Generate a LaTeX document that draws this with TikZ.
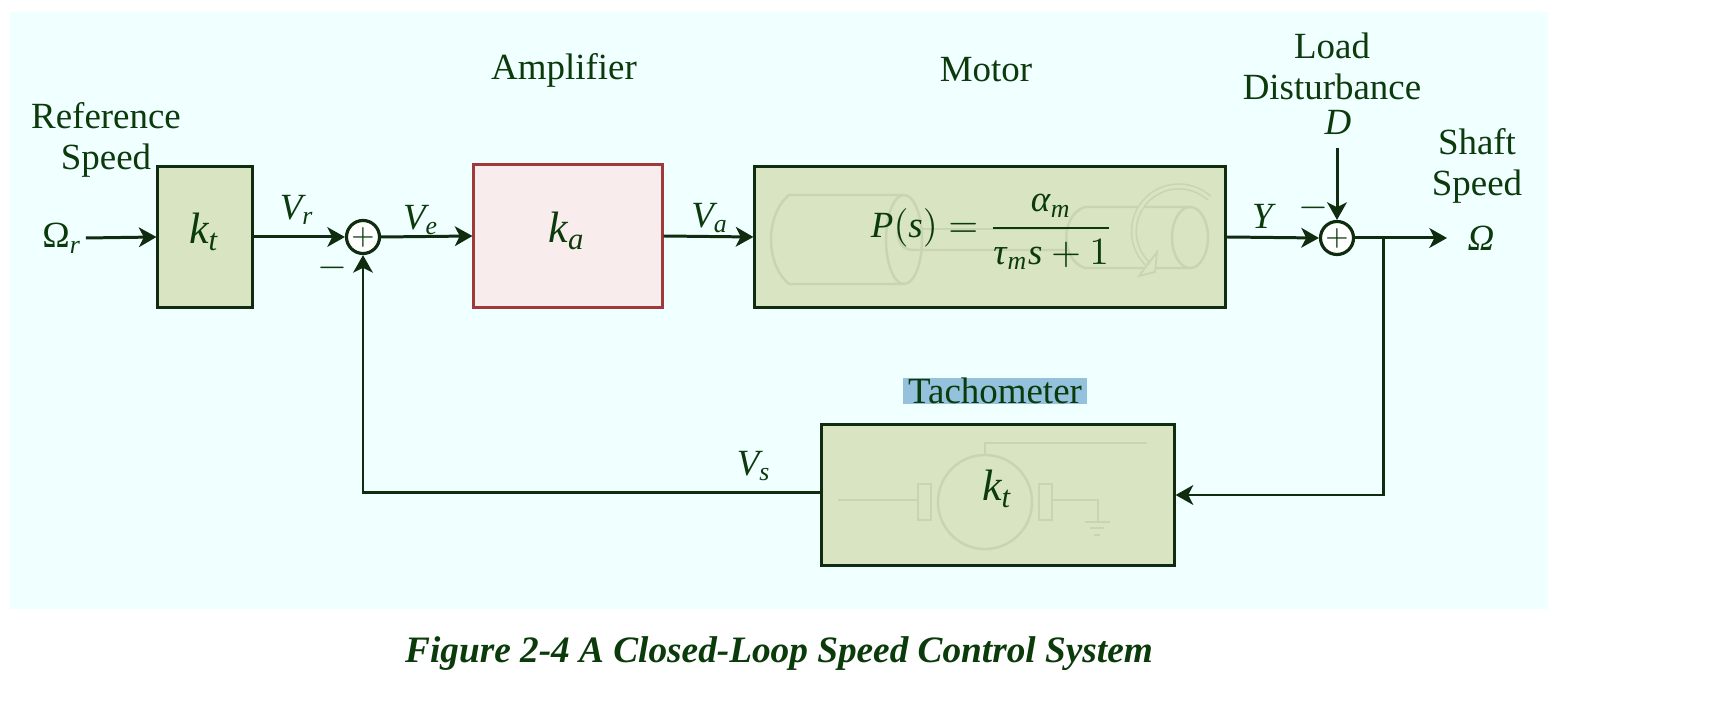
\documentclass[tikz,border=0pt]{standalone}
\usepackage{fontspec}
\setmainfont{Liberation Serif}
\usetikzlibrary{arrows.meta}
\definecolor{panelcol}{HTML}{F0FFFF}
\definecolor{blockcol}{HTML}{D9E5C2}
\definecolor{ampcol}{HTML}{F8ECEC}
\definecolor{ampline}{HTML}{9E3A3A}
\definecolor{linecol}{HTML}{0F2C0F}
\definecolor{textcol}{HTML}{0B3A0B}
\definecolor{ghostcol}{HTML}{C8D4B2}
\definecolor{markcol}{HTML}{94C1DC}
\newcommand{\sym}[2]{$\mathit{#1}_{\mathit{#2}}$}
\begin{document}
\begin{tikzpicture}[
        x=0.01cm, y=-0.01cm,
        font=\fontsize{10.5}{11.7}\selectfont,
        text=textcol,
        block/.style={rectangle, draw=linecol, fill=blockcol, line width=0.85pt, inner sep=0pt},
        sum/.style={circle, draw=linecol, fill=white, line width=0.9pt, inner sep=0pt, minimum size=0.33cm, font=\fontsize{8}{8}\selectfont},
        tag/.style={inner sep=1pt, align=center},
        gain/.style={tag, font=\fontsize{12.5}{13}\selectfont},
        wire/.style={draw=linecol, line width=0.85pt},
        signal/.style={wire, -{Stealth[length=5pt, width=5.6pt, inset=1.4pt]}},
        ghost/.style={draw=ghostcol, line width=0.7pt}
    ]
        \useasboundingbox (0,0) rectangle (1718,707);
        \fill[panelcol] (10,12) rectangle (1548,609);

        % blocks
        \node[block, minimum width=0.94cm, minimum height=1.40cm] (kr) at (205,237) {};
        \node[block, fill=ampcol, draw=ampline, minimum width=1.88cm, minimum height=1.42cm] (amp) at (568,236) {};
        \node[block, minimum width=4.70cm, minimum height=1.41cm] (motor) at (990,237) {};
        \node[block, minimum width=3.52cm, minimum height=1.41cm] (tach) at (998,495) {};
        \node[sum] (sumA) at (363,237) {$+$};
        \node[sum] (sumB) at (1337,238) {$+$};

        % faint motor sketch
        \draw[ghost] (904,195) -- (789,195) .. controls (765,215) and (765,264) .. (789,284) -- (904,284);
        \draw[ghost] (904,239.5) ellipse [x radius=0.18cm, y radius=0.445cm];
        \draw[ghost] (920,229) -- (1068,229);
        \draw[ghost] (1068,250) -- (915,250) .. controls (903,250) and (898,245) .. (898,232);
        \draw[ghost] (1190,207) -- (1085,207) .. controls (1060,215) and (1060,260) .. (1085,268) -- (1190,268);
        \draw[ghost] (1190,237.5) ellipse [x radius=0.18cm, y radius=0.305cm];
        \draw[ghost, line width=0.45pt, double=blockcol, double distance=0.9pt] (1209,198) arc [start angle=48, end angle=225, radius=0.45cm];
        \draw[ghost, fill=blockcol, line width=0.5pt] (1157,252) -- (1139,276) -- (1155,272) -- cycle;

        % faint tachometer sketch
        \draw[ghost] (985,502) circle [radius=0.47cm];
        \draw[ghost] (985,455) -- (985,443) -- (1147,443);
        \draw[ghost] (918,484) rectangle (931,520);
        \draw[ghost] (1039,484) rectangle (1052,520);
        \draw[ghost] (838,500) -- (918,500);
        \draw[ghost] (1052,500) -- (1098,500) -- (1098,522);
        \draw[ghost] (1085,522) -- (1110,522);
        \draw[ghost] (1090,528) -- (1104,528);
        \draw[ghost] (1094,535) -- (1100,535);

        % labels
        \node[tag] (refspeed) at (106,140) {Reference\\Speed};
        \node[tag] (amplabel) at (564,70) {Amplifier};
        \node[tag] (motorlabel) at (986,70) {Motor};
        \node[tag] (loadlabel) at (1332,66) {Load\\Disturbance};
        \node[tag] (shaftlabel) at (1477,166) {Shaft\\Speed};
        \node[tag, fill=markcol, inner sep=0pt, minimum width=1.84cm, minimum height=0.25cm] (tachlabel) at (995,391) {Tachometer};
        \node[tag] (wr) at (62,238) {$\mbox{Ω}_{\mathit{r}}$};
        \node[tag] (wout) at (1481,238) {\textit{Ω}};
        \node[tag] (dist) at (1338,122) {\textit{D}};
        \node[tag] (vr) at (297,210) {\sym{V}{r}};
        \node[tag] (ve) at (421,220) {\sym{V}{e}};
        \node[tag] (va) at (710,218) {\sym{V}{a}};
        \node[tag] (vy) at (1264,216) {\textit{Y}};
        \node[tag] (vs) at (754,466) {\sym{V}{s}};
        \node[tag] (minusA) at (332,268) {$-$};
        \node[tag] (minusB) at (1313,208) {$-$};
        \node[gain] (ktext) at (204,232) {\sym{k}{t}};
        \node[gain] (katext) at (567,231) {\sym{k}{a}};
        \node[tag] (ptext) at (992,232) {$\displaystyle \mathit{P}(\mathit{s})=\frac{\mbox{\textit{α}}_{\mathit{m}}}{\mbox{\textit{τ}}_{\mathit{m}}\mathit{s}+1}$};
        \node[gain] (kttext) at (997,489) {\sym{k}{t}};
        \node[tag, font=\fontsize{10.6}{13}\selectfont\bfseries\itshape] (caption) at (779,654) {Figure 2-4 A Closed-Loop Speed Control System};

        % free ends
        \coordinate (dtop) at (1337,148);
        \coordinate (shaftend) at (1447,238);
        \coordinate (branch) at (1383,238);

        % connectors
        \draw[signal] (wr.east) -- (kr.west);
        \draw[signal] (kr.east) -- (sumA.west);
        \draw[signal] (sumA.east) -- (amp.west);
        \draw[signal] (amp.east) -- (motor.west);
        \draw[signal] (motor.east) -- (sumB.west);
        \draw[signal] (dtop) -- (sumB.north);
        \draw[signal] (sumB.east) -- (shaftend);
        \draw[signal] (branch) |- (tach.east);
        \draw[signal] ([yshift=0.02cm]tach.west) -| (sumA.south);
    \end{tikzpicture}
\end{document}
